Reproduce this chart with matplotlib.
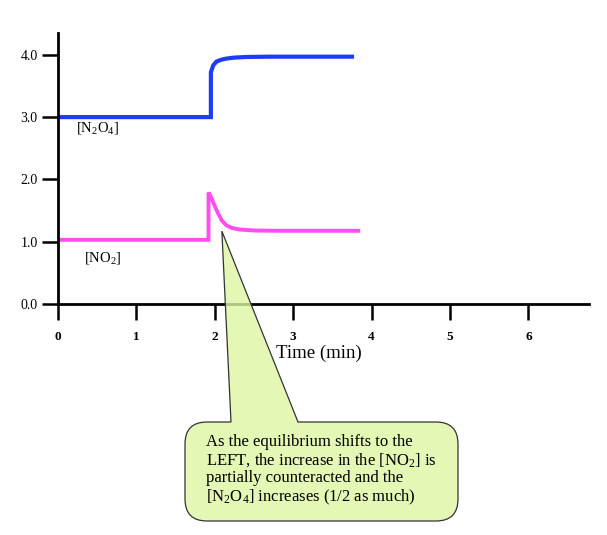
import numpy as np
import matplotlib
matplotlib.use('Agg')
from matplotlib import pyplot as plt
from matplotlib.path import Path
from matplotlib.patches import PathPatch

plt.rcParams['font.family'] = ['Liberation Serif', 'DejaVu Serif']
plt.rcParams['mathtext.default'] = 'regular'

# values
t_n2o4 = [0, 1.95, 1.95, 1.98, 2.02, 2.08, 2.15, 2.25, 2.4, 2.7, 3.2, 3.75]
c_n2o4 = [3.0, 3.0, 3.72, 3.83, 3.89, 3.92, 3.94, 3.955, 3.965, 3.97, 3.97, 3.97]

t_no2 = [0, 1.92, 1.92, 1.95, 1.99, 2.04, 2.09, 2.15, 2.22, 2.32, 2.5, 2.8, 3.83]
c_no2 = [1.03, 1.03, 1.79, 1.72, 1.60, 1.46, 1.34, 1.26, 1.22, 1.195, 1.18, 1.175, 1.175]

x_ticks = [0, 1, 2, 3, 4, 5, 6]
y_ticks = [0.0, 1.0, 2.0, 3.0, 4.0]
y_labels = ['0.0', '1.0', '2.0', '3.0', '4.0']

W, H = 607, 535
fig = plt.figure(figsize=(W / 100, H / 100), dpi=100)
# axes placed in pixel terms: origin at (58, 304), 78.4 px per minute, 62.3 px per unit
ax = fig.add_axes([58 / W, (H - 304) / H, (589 - 58) / W, (304 - 33) / H])
ax.set_xlim(0, (589 - 58) / 78.4)
ax.set_ylim(0, (304 - 33) / 62.3)

ax.plot(t_n2o4, c_n2o4, color='#1f3cf5', lw=3.0, solid_joinstyle='miter')
ax.plot(t_no2, c_no2, color='#ff4ef0', lw=2.8, solid_joinstyle='miter')

ax.text(0.23, 2.95, '[N$_2$O$_4$]', fontsize=10.5, va='top', ha='left')
ax.text(0.33, 0.86, '[NO$_2$]', fontsize=10.5, va='top', ha='left')

for s in ['top', 'right']:
    ax.spines[s].set_visible(False)
for s in ['left', 'bottom']:
    ax.spines[s].set_linewidth(2.0)

ax.set_xticks(x_ticks)
ax.set_xticklabels([str(v) for v in x_ticks], fontsize=9.5, fontweight='bold')
ax.set_yticks(y_ticks)
ax.set_yticklabels(y_labels, fontsize=10)
ax.tick_params(axis='both', direction='out', length=11.5, width=1.8)
ax.tick_params(axis='x', pad=8)
ax.tick_params(axis='y', pad=3)

fig.text(276 / W, (H - 353) / H, 'Time (min)', fontsize=13.5, va='center', ha='left')

# callout box with pointer, drawn in figure pixels
fig.canvas.draw()
tx, ty = ax.transData.transform((2.09, 1.17))
L, R, T, B, r = 185, 458, H - 422, H - 521, 22
bx1, bx2 = 231, 298
verts = [(bx1, T), (tx, ty), (bx2, T), (R - r, T),
         (R, T), (R, T - r), (R, B + r),
         (R, B), (R - r, B), (L + r, B),
         (L, B), (L, B + r), (L, T - r),
         (L, T), (L + r, T), (bx1, T)]
codes = [Path.MOVETO, Path.LINETO, Path.LINETO, Path.LINETO,
         Path.CURVE3, Path.CURVE3, Path.LINETO,
         Path.CURVE3, Path.CURVE3, Path.LINETO,
         Path.CURVE3, Path.CURVE3, Path.LINETO,
         Path.CURVE3, Path.CURVE3, Path.CLOSEPOLY]
verts = [(x / W, y / H) for x, y in verts]
callout = PathPatch(Path(verts, codes), facecolor=(0.87, 0.96, 0.64, 0.8),
                    edgecolor='#333333', lw=0.9, transform=fig.transFigure)
fig.patches.append(callout)

fig.text(206 / W, (H - 434) / H,
         'As the equilibrium shifts to the\n'
         'LEFT, the increase in the [NO$_2$] is\n'
         'partially counteracted and the\n'
         '[N$_2$O$_4$] increases (1/2 as much)',
         fontsize=12, va='top', ha='left', linespacing=1.1)

fig.savefig('out.png', dpi=100)
